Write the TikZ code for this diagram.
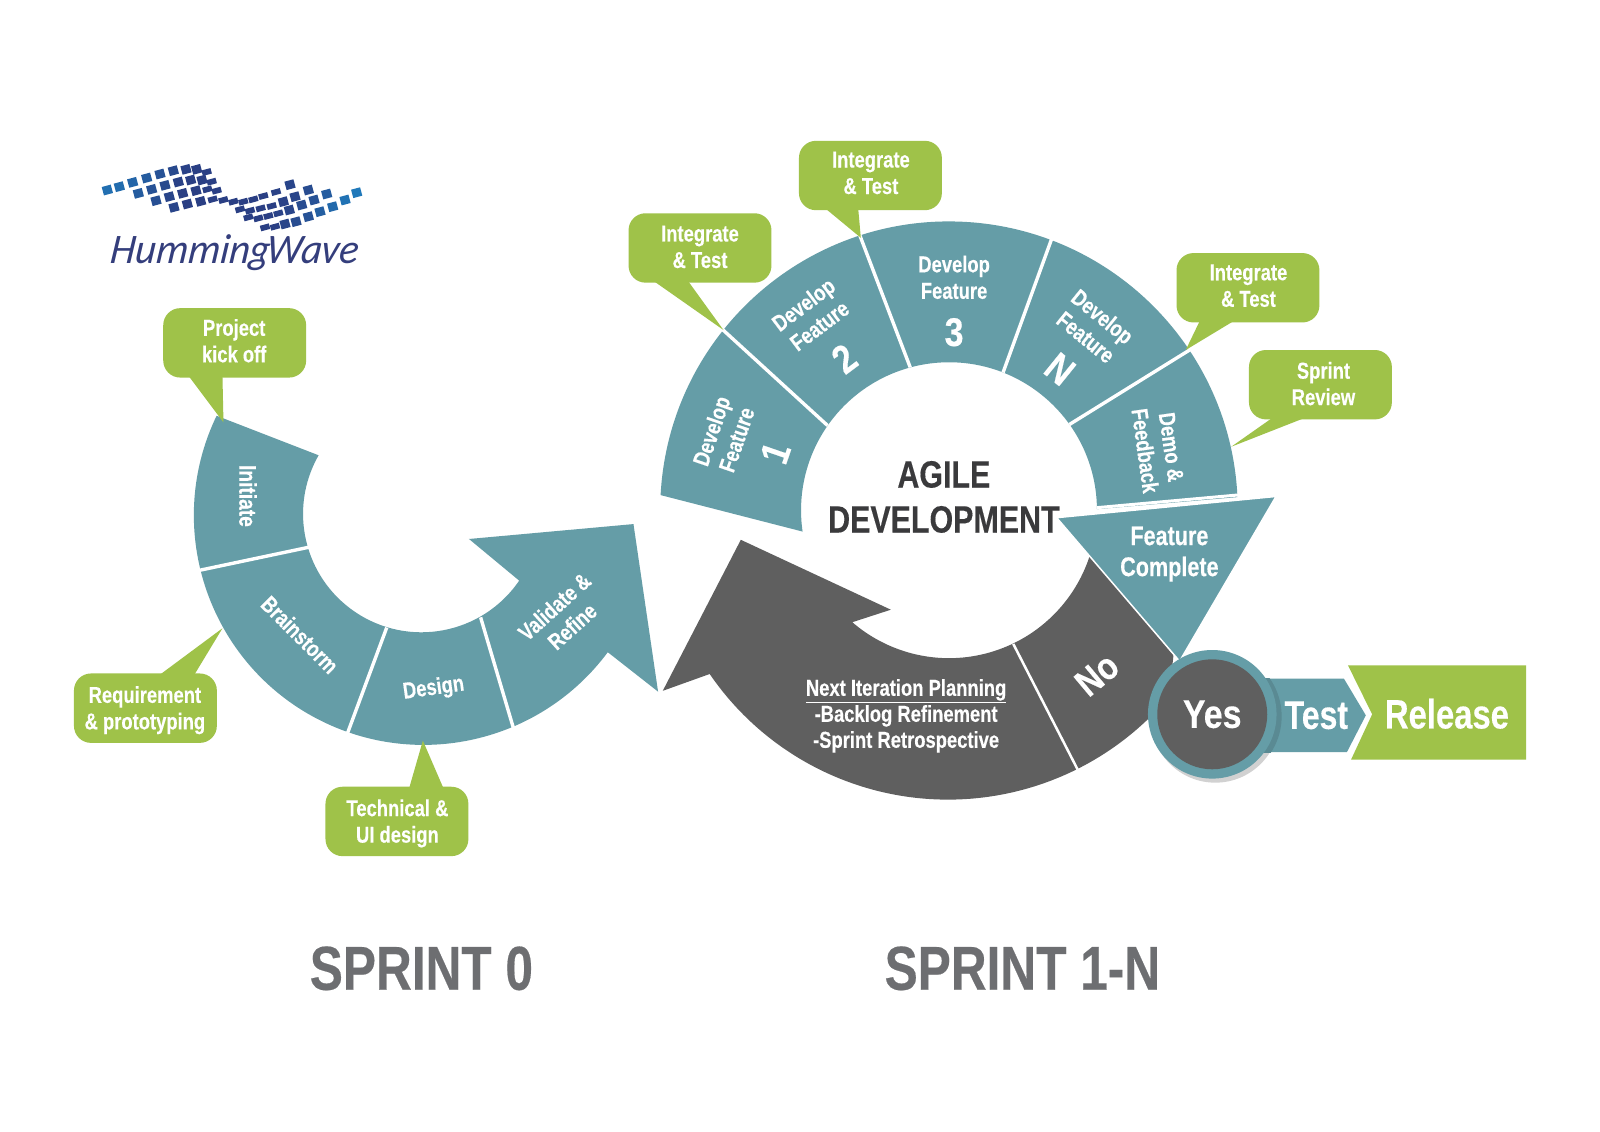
\documentclass[tikz,border=0pt]{standalone}
\usepackage{fontspec}
\setmainfont{Liberation Sans}
\newfontfamily\condf[FakeStretch=0.8,FakeBold=0.3]{Liberation Sans}
\newfontfamily\digf[FakeStretch=0.85,FakeBold=0.3]{Liberation Sans}
\newfontfamily\logof[FakeStretch=0.96,FakeSlant=0.12]{Carlito}
\definecolor{tealc}{HTML}{659DA7}
\definecolor{tealdk}{HTML}{5A8A93}
\definecolor{greenc}{HTML}{9FC249}
\definecolor{darkc}{HTML}{5F5F5F}
\definecolor{greyc}{HTML}{6D6E71}
\definecolor{inkc}{HTML}{3A3A3C}
\definecolor{navyc}{HTML}{343E7C}
\definecolor{wavea}{HTML}{2A3F84}
\definecolor{waveb}{HTML}{1F7FC0}
\newcommand{\fs}[2]{\fontsize{#1}{#2}\selectfont}
\newcommand{\digit}[1]{{\digf\bfseries\fs{40}{34}#1}}
\tikzset{
 callbox/.style={fill=greenc,rounded corners=17pt,minimum width=142.9pt,minimum height=69.4pt,inner sep=0pt},
 seglabel/.style={text=white,align=center,inner sep=0pt,font=\condf\bfseries\fs{23}{26.5}},
 biglabel/.style={seglabel,font=\condf\bfseries\fs{40}{40}},
 sprint/.style={seglabel,text=greyc,font=\condf\bfseries\fs{62}{62}},
 sep/.style={draw=white,line width=3.4pt}
}
\begin{document}
\begin{tikzpicture}[x=1pt,y=1pt,yscale=-1,scale=1.0204]
\useasboundingbox (0,0) rectangle (1568,1108.4);
\fill[white] (0,0) rectangle (1568,1108.4);
% logo
\begin{scope}[shift={(88.2,147)},scale=0.3267]
\foreach \x/\y/\c in {52/120/25,88/110/30,128/97/40,170/84/55,210/72/70,250/62/85,288/58/95,320/58/100,350/66/100,
 145/130/55,185/118/70,225/106/85,265/96/95,302/90/100,336/90/100,365/95/100,
 198/152/75,238/140/90,278/130/100,318/122/100,352/118/100,380/122/100,
 252/172/90,292/162/100,332/154/100,368/148/100,400/150/100,430/155/100,460/155/100,490/148/100,520/138/100,558/126/95,600/104/90,
 450/178/100,480/182/100,512/175/100,545/168/100,580/155/95,615/140/90,655/120/80,
 475/202/100,505/205/100,535/198/100,565/190/95,598/180/90,635/165/80,672/150/70,710/132/55,
 525/232/100,555/230/100,585/222/90,618/215/80,655/200/70,690/185/50,728/170/35,765/150/20,800/128/10}
 {\pgfmathsetmacro{\hh}{(\x>340 && \x<570) ? 8.5 : 13}
  \fill[wavea!\c!waveb,rotate around={-15:(\x,\y)}] (\x-14,\y-\hh) rectangle (\x+14,\y+\hh);}
\end{scope}
\node[inner sep=0pt,text=navyc,font=\logof\itshape\fs{42}{42}] (logotext) at (229,248) {Humming\kern-4pt Wave};
% left spiral
\fill[tealc] ([shift={(415,505)}]205.7:225) arc[start angle=205.7,end angle=36.6,radius=225pt]
 -- (644.9,677.8) -- (620.8,513.6) -- (459.6,528.2) -- (508.8,569)
 arc[start angle=34.3,end angle=209.7,radius=116pt] -- cycle;
\draw[sep] (195,559) -- (304,536);
\draw[sep] (340,720) -- (379,615);
\draw[sep] (503,713) -- (471,605);
% right ring
\fill[tealc] ([shift={(930,500)}]183:283) arc[start angle=183,end angle=357.4,radius=283pt]
 -- ([shift={(930,500)}]359.6:145) arc[start angle=359.6,end angle=171.7,radius=145pt] -- cycle;
\draw[sep] (706,321) -- (811,417);
\draw[sep] (842,229) -- (892,360);
\draw[sep] (1031,233) -- (983,365);
\draw[sep] (1169,341) -- (1048,416);
% dark arrow
\fill[darkc] ([shift={(930,500)}]17.8:145) arc[start angle=17.8,end angle=130.8,radius=145pt]
 -- (873,597.5) -- (726,529) -- (649.5,677) -- (695.5,660.5)
 arc[start angle=145.6,end angle=40,radius=283pt] -- (1150,642) -- cycle;
\draw[draw=white,line width=2.5pt] (993,631) -- (1056,754);
% feature complete
\fill[tealc,draw=white,line width=1.5pt] (1035.5,507.3) -- (1250.5,486.5) -- (1156,648) -- cycle;
\draw[draw=white,line width=3pt] (1075,497.5) -- (1214,485);
% test / release
\fill[black!18] (1191,704) circle[radius=63pt];
\fill[tealc] (1230,665) -- (1317,665) -- (1338.5,701) -- (1320,737) -- (1230,737) -- cycle;
\begin{scope}
\clip (1230,665) rectangle (1320,737);
\fill[tealdk] (1191,702) circle[radius=65pt];
\end{scope}
\fill[tealc] (1188,700) circle[radius=63pt];
\node[circle,fill=darkc,minimum size=110pt,inner sep=0pt,text=white,font=\digf\bfseries\fs{40}{40}] (yes) at (1188,700) {\raisebox{-1.5pt}{Yes}};
\fill[greenc] (1321,652) -- (1495.6,652) -- (1495.6,744.5) -- (1324,744.5) -- (1344.7,700) -- cycle;
\node[biglabel] (test) at (1290,701) {Test};
\node[biglabel,font=\condf\bfseries\fs{41}{41}] (release) at (1418,699.5) {Release};
% callouts
\fill[greenc] (184.5,368) -- (219,414) -- (218,368) -- cycle;
\node[callbox] (kickbox) at (230,336) {};
\node[seglabel] (kick) at (229.5,334) {Project\\kick off};
\fill[greenc] (155.6,662) -- (218,615.7) -- (190,662) -- cycle;
\node[callbox] (reqbox) at (142.5,694) {};
\node[seglabel] (req) at (142,696) {Requirement\\\& prototyping};
\fill[greenc] (400.8,773) -- (414.4,725.8) -- (434.8,773) -- cycle;
\node[callbox] (techbox) at (389,805) {};
\node[seglabel] (tech) at (389.5,807) {Technical \&\\UI design};
\fill[greenc] (640,275) -- (709,323.4) -- (674,275) -- cycle;
\node[callbox] (int1box) at (686,243) {};
\node[seglabel] (int1) at (686,242) {Integrate\\\& Test};
\fill[greenc] (808.5,204) -- (843.6,233) -- (841,204) -- cycle;
\node[callbox] (int2box) at (853,172) {};
\node[seglabel] (int2) at (853.5,169.5) {Integrate\\\& Test};
\fill[greenc] (1176,314) -- (1162,343) -- (1210,314) -- cycle;
\node[callbox] (int3box) at (1223,282) {};
\node[seglabel] (int3) at (1223.5,280) {Integrate\\\& Test};
\fill[greenc] (1247.6,409) -- (1206.6,437.8) -- (1280,409) -- cycle;
\node[callbox] (reviewbox) at (1294,377) {};
\node[seglabel] (review) at (1297,376) {Sprint\\Review};
% labels
\node[seglabel,rotate=-90,font=\condf\bfseries\fs{24}{26}] (initiate) at (243,486) {Initiate};
\node[seglabel,rotate=-45] (brain) at (294,622) {Brainstorm};
\node[seglabel,rotate=8] (design) at (425,675) {Design};
\node[seglabel,rotate=42] (validate) at (552,604) {Validate \&\\Refine};
\node[seglabel,rotate=71] (d1) at (731,434) {Develop\\Feature\\[18pt]\digit{1}};
\node[seglabel,rotate=37] (d2) at (809,327) {Develop\\Feature\\[18pt]\digit{2}};
\node[seglabel] (d3) at (935,295) {Develop\\Feature\\[18pt]\digit{3}};
\node[seglabel,rotate=-39] (dn) at (1058,338) {Develop\\Feature\\[18pt]\digit{N}};
\node[seglabel,rotate=-82] (demo) at (1135,440) {Demo \&\\Feedback};
\node[seglabel,font=\condf\bfseries\fs{27}{31}] (feature) at (1146,543) {Feature\\Complete};
\node[seglabel,text=inkc,font=\condf\bfseries\fs{38}{45}] (agile) at (925,487) {AGILE\\DEVELOPMENT};
\node[seglabel,rotate=40,font=\digf\bfseries\fs{38}{38}] (no) at (1075,661) {No};
\node[seglabel,font=\condf\bfseries\fs{23}{26}] (next) at (888,701.5) {\underline{Next Iteration Planning}\\-Backlog Refinement\\-Sprint Retrospective};
\node[sprint] (s0) at (413,949) {SPRINT 0};
\node[sprint] (s1) at (1002,949) {SPRINT 1-N};
\end{tikzpicture}
\end{document}
